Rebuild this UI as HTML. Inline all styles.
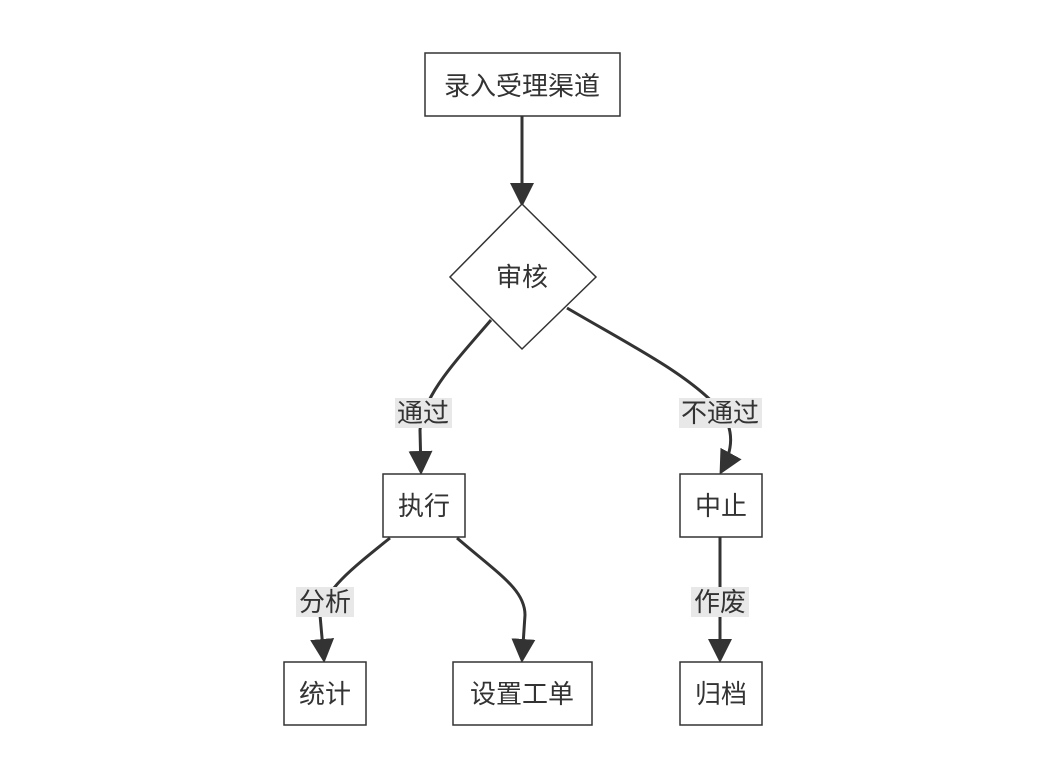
<!DOCTYPE html>
<html><head><meta charset="utf-8"><style>
html,body{margin:0;padding:0;background:#fff;width:1046px;height:781px;overflow:hidden}
svg text{font-family:"Liberation Sans","Noto Sans CJK SC",sans-serif;fill:#333;font-size:26px}
</style></head><body>
<svg width="1046" height="781" viewBox="0 0 1046 781" xmlns="http://www.w3.org/2000/svg">
<defs>
<marker id="a" markerWidth="8" markerHeight="8" refX="7" refY="4" orient="auto" markerUnits="strokeWidth">
<path d="M0,0 L8,4 L0,8 Z" fill="#333"/>
</marker>
</defs>
<g fill="none" stroke="#333" stroke-width="3">
<path d="M522,116 L522,204" marker-end="url(#a)"/>
<path d="M491,320 C455,362 423,395 420,430 L421,472" marker-end="url(#a)"/>
<path d="M567,308 C630,345 690,375 720,410 C735,430 733,450 721,472" marker-end="url(#a)"/>
<path d="M390,538 C350,570 325,590 320,615 L324,660" marker-end="url(#a)"/>
<path d="M457,538 C500,575 525,590 525,615 L522,660" marker-end="url(#a)"/>
<path d="M720,537 L720,660" marker-end="url(#a)"/>
</g>
<g fill="#fff" stroke="#333" stroke-width="1.5">
<rect x="425" y="53" width="195" height="63"/>
<polygon points="522,204 596,277 522,349 450,277"/>
<rect x="383" y="474" width="82" height="63"/>
<rect x="680" y="474" width="82" height="63"/>
<rect x="284" y="662" width="82" height="63"/>
<rect x="453" y="662" width="139" height="63"/>
<rect x="680" y="662" width="82" height="63"/>
</g>
<g fill="#e8e8e8" stroke="none">
<rect x="395" y="398" width="57" height="30"/>
<rect x="679" y="398" width="83" height="30"/>
<rect x="296" y="587" width="58" height="30"/>
<rect x="691" y="587" width="58" height="30"/>
</g>
<g text-anchor="middle" dominant-baseline="central">
<text x="522" y="86">录入受理渠道</text>
<text x="522" y="277">审核</text>
<text x="424" y="506">执行</text>
<text x="721" y="506">中止</text>
<text x="325" y="694">统计</text>
<text x="522" y="694">设置工单</text>
<text x="721" y="694">归档</text>
<text x="423" y="413">通过</text>
<text x="720" y="413">不通过</text>
<text x="325" y="602">分析</text>
<text x="720" y="602">作废</text>
</g>
</svg>
</body></html>
